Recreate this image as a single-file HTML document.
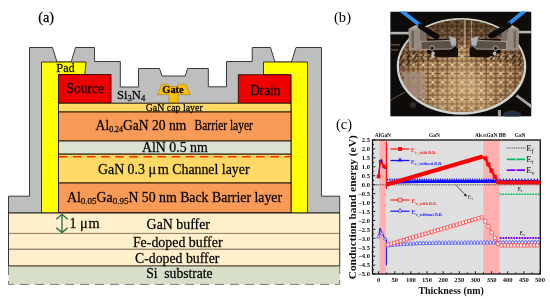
<!DOCTYPE html>
<html><head><meta charset="utf-8"><title>HEMT structure, wafer photo and band diagram</title>
<style>
html,body{margin:0;padding:0;background:#fff;}
body{width:550px;height:299px;overflow:hidden;}
svg{display:block;}
</style></head>
<body>
<svg width="550" height="299" viewBox="0 0 550 299">
<rect width="550" height="299" fill="#fff"/>
<polygon points="8.5,213.0 8.5,196.2 29.5,196.2 29.5,47.5 52.5,47.5 57.0,62.0 71.2,62.0 75.5,47.5 94.5,47.5 94.5,61.5 120.3,61.5 120.3,87.0 138.5,87.0 138.5,68.5 159.5,68.5 162.0,76.0 185.3,76.0 187.5,68.5 208.3,68.5 208.3,86.8 226.5,86.8 226.5,61.5 252.2,61.5 252.2,47.5 270.5,47.5 275.0,62.0 291.5,62.0 296.0,47.5 321.5,47.5 321.5,196.2 339.7,196.2 339.7,213.0" fill="#BEBEBE" stroke="#3a3a3a" stroke-width="1" stroke-linejoin="miter"/>
<polygon points="41.5,62 86,62 84.8,74.6 58.5,74.6 58.5,213 41.5,213" fill="#FFFF00" stroke="#222" stroke-width="0.9"/>
<polygon points="263.5,62 307.5,62 307.5,213 291,213 291,74.8 263.5,74.8" fill="#FFFF00" stroke="#222" stroke-width="0.9"/>
<rect x="58.5" y="74.6" width="52.5" height="28.6" fill="#EE0000" stroke="#300" stroke-width="0.9"/>
<rect x="238.3" y="74.8" width="52.5" height="28.4" fill="#EE0000" stroke="#300" stroke-width="0.9"/>
<polygon points="157.5,94.6 162,84.2 168,84.2 170,86.5 177,86.5 179.5,84.2 185.5,84.2 190,94.6 178,94.6 178,103.2 169,103.2 169,94.6" fill="#FFC000" stroke="#a07000" stroke-width="0.5"/>
<rect x="58.5" y="103.2" width="232.5" height="8.8" fill="#FFD966" stroke="#2b1a0a" stroke-width="1"/>
<rect x="58.5" y="112.0" width="232.5" height="29.0" fill="#F99B57" stroke="#2b1a0a" stroke-width="1"/>
<rect x="58.5" y="141.0" width="232.5" height="13.2" fill="#DCE2D2" stroke="#2b1a0a" stroke-width="1"/>
<rect x="58.5" y="154.2" width="232.5" height="28.8" fill="#FFD966" stroke="#2b1a0a" stroke-width="1"/>
<rect x="58.5" y="183.0" width="232.5" height="29.6" fill="#F99B57" stroke="#2b1a0a" stroke-width="1"/>
<line x1="58.8" y1="156.8" x2="290.5" y2="156.8" stroke="#FF2A00" stroke-width="1.6" stroke-dasharray="8.6 5.5"/>
<rect x="8.5" y="213" width="331.2" height="53" fill="#FFEFCB"/>
<rect x="8.5" y="266.2" width="331.2" height="18.2" fill="#D8DFC9"/>
<line x1="8.5" y1="213" x2="339.7" y2="213" stroke="#222" stroke-width="1.2"/>
<line x1="8.5" y1="233.4" x2="339.7" y2="233.4" stroke="#8a7b62" stroke-width="1"/>
<line x1="8.5" y1="249.2" x2="339.7" y2="249.2" stroke="#6b5f4c" stroke-width="1"/>
<line x1="8.5" y1="265.9" x2="339.7" y2="265.9" stroke="#4a4234" stroke-width="1.4"/>
<line x1="8.5" y1="213" x2="8.5" y2="266" stroke="#333" stroke-width="1"/>
<line x1="339.7" y1="213" x2="339.7" y2="266" stroke="#333" stroke-width="1"/>
<polyline points="8.5,266 8.5,284.4 339.7,284.4 339.7,266" fill="none" stroke="#7a7a7a" stroke-width="1" stroke-dasharray="9 6"/>
<g stroke="#1f6a3c" stroke-width="1.3" fill="none"><line x1="62" y1="214.3" x2="62" y2="232.6"/><polyline points="56.3,219.2 62,214.3 67.7,219.2"/><polyline points="56.3,227.8 62,232.6 67.7,227.8"/></g>
<g font-family="&#39;Liberation Serif&#39;, &#39;Times New Roman&#39;, serif" stroke="#000" stroke-width="0.28" stroke-opacity="0.8"><text x="38.2" y="21.9" font-size="14.30" fill="#000" >(a)</text><text x="56.3" y="71.6" font-size="12.30" fill="#000" >Pad</text><text x="66.5" y="92.9" font-size="14.80" fill="#000" textLength="37.4" lengthAdjust="spacingAndGlyphs">Source</text><text x="250.2" y="94.8" font-size="14.80" fill="#000" textLength="30.2" lengthAdjust="spacingAndGlyphs">Drain</text><text x="162.3" y="93.0" font-size="10.40" fill="#000" font-weight="bold">Gate</text><text x="117" y="98.6" font-size="12.6">Si<tspan font-size="8.6" dy="2">3</tspan><tspan dy="-2">N</tspan><tspan font-size="8.6" dy="2">4</tspan></text><text x="145.7" y="110.9" font-size="9.90" fill="#000" >GaN cap layer</text><text x="95.6" y="130.4" font-size="13.6">Al<tspan font-size="7.9" dy="1.6">0.24</tspan><tspan dy="-1.6">GaN 20 nm </tspan></text><text x="194.6" y="130.4" font-size="13.6" textLength="58.2" lengthAdjust="spacingAndGlyphs">Barrier layer</text><text x="142.0" y="151.5" font-size="13.85" fill="#000" >AlN 0.5 nm</text><text x="98.0" y="173.6" font-size="13.85">GaN 0.3 <tspan font-size="14.3" letter-spacing="1.6">μ</tspan><tspan font-size="14.3">m</tspan> Channel layer</text><text x="67.0" y="202.2" font-size="13.8">Al<tspan font-size="9" dy="2">0.05</tspan><tspan dy="-2">Ga</tspan><tspan font-size="9" dy="2">0.95</tspan><tspan dy="-2">N 50 nm Back Barrier layer</tspan></text><text x="69.6" y="228" font-size="13.9">1 <tspan font-size="14.3" letter-spacing="0.8">μ</tspan><tspan font-size="14.3">m</tspan></text><text x="146.6" y="229.0" font-size="13.90" fill="#000" >GaN buffer</text><text x="132.9" y="246.6" font-size="13.90" fill="#000" >Fe-doped buffer</text><text x="135.0" y="263.2" font-size="13.80" fill="#000" >C-doped buffer</text><text x="146.2" y="278.3" font-size="13.60" fill="#000" >Si&#160; substrate</text></g>
<text x="334" y="21.6" font-size="14.6" font-family="&#39;Liberation Serif&#39;, &#39;Times New Roman&#39;, serif">(b)</text>
<defs><clipPath id="ph"><rect x="390.2" y="11.5" width="141.3" height="105.1"/></clipPath><linearGradient id="wg" x1="0" y1="0" x2="0" y2="1"><stop offset="0" stop-color="#5a3c26"/><stop offset="0.4" stop-color="#6e4e34"/><stop offset="1" stop-color="#80603e"/></linearGradient><radialGradient id="glow" cx="0.5" cy="0.5" r="0.5"><stop offset="0" stop-color="#f4dcaa" stop-opacity="0.5"/><stop offset="1" stop-color="#f4dcaa" stop-opacity="0"/></radialGradient><pattern id="dies" x="1" y="0.5" width="9.7" height="8.6" patternUnits="userSpaceOnUse"><rect x="0" y="0" width="9.7" height="8.6" fill="#3e2614" opacity="0.3"/><g fill="#cfa272" opacity="0.9"><rect x="0.7" y="0.6" width="3.7" height="3.2"/><rect x="5.5" y="0.6" width="3.7" height="3.2"/><rect x="0.7" y="4.9" width="3.7" height="3.2"/><rect x="5.5" y="4.9" width="3.7" height="3.2"/></g><circle cx="5" cy="4.35" r="1.4" fill="#f4e0b6" opacity="0.9"/></pattern><filter id="soft" x="0" y="0" width="1" height="1"><feGaussianBlur stdDeviation="0.45"/></filter><filter id="blur3" x="-0.3" y="-0.3" width="1.6" height="1.6"><feGaussianBlur stdDeviation="4"/></filter><radialGradient id="vig" cx="0.5" cy="0.62" r="0.55"><stop offset="0.55" stop-color="#2a1a0e" stop-opacity="0"/><stop offset="1" stop-color="#2a1a0e" stop-opacity="0.45"/></radialGradient><pattern id="diag" x="0" y="0" width="7" height="6" patternUnits="userSpaceOnUse"><path d="M0,6 L3,0 L4.6,0 L1.6,6 z" fill="#1e120a" opacity="0.75"/></pattern><clipPath id="wc"><ellipse cx="461.5" cy="65.9" rx="62.5" ry="46.1"/></clipPath></defs>
<g clip-path="url(#ph)">
<rect x="390.2" y="11.5" width="141.3" height="105.1" fill="#0e0b09"/>
<rect x="390" y="31.8" width="19" height="2.6" fill="#b4b4b4"/>
<rect x="519" y="30.8" width="13" height="2.6" fill="#b4b4b4"/>
<rect x="390" y="44" width="10" height="1.6" fill="#5a4432"/>
<rect x="390" y="49" width="8" height="1.6" fill="#5a4432"/>
<line x1="516.5" y1="95.5" x2="533" y2="107.8" stroke="#a9a9a9" stroke-width="2.8"/>
<line x1="389" y1="101" x2="405" y2="92" stroke="#6e6460" stroke-width="0.9"/>
<ellipse cx="512" cy="114.5" rx="9" ry="4" fill="#27313b"/>
<ellipse cx="413" cy="105" rx="3" ry="3" fill="#2c2c2c"/>
<rect x="498" y="110" width="3" height="6" fill="#9a9a9a"/>
<ellipse cx="461.5" cy="66.4" rx="64.8" ry="48.4" fill="#cfd4ce"/>
<g clip-path="url(#wc)">
<rect x="395" y="17" width="134" height="98" fill="url(#wg)"/>
<rect x="395" y="17" width="134" height="98" fill="url(#dies)" filter="url(#soft)"/>
<polygon points="462,46 500,116 424,116" fill="#f0d098" opacity="0.2" filter="url(#blur3)"/>
<ellipse cx="468" cy="86" rx="30" ry="24" fill="url(#glow)" opacity="0.6"/>
<rect x="395" y="17" width="134" height="98" fill="url(#vig)"/>
<ellipse cx="462" cy="24" rx="50" ry="22" fill="#2e1c10" opacity="0.3" filter="url(#blur3)"/>
<path d="M397,55 C405,50 420,50 440,56 L440,62 C425,60 410,62 398,70 z" fill="url(#diag)"/>
<path d="M526,55 C518,50 503,50 483,56 L483,62 C498,60 513,62 525,70 z" fill="url(#diag)"/>
<polygon points="403,73 424,71 427,99 406,96" fill="#a48c7c" opacity="0.8"/>
<path d="M411,88.5 l3,1.5 l-3,1.5 z" fill="#ff40c0"/>
<line x1="465" y1="18" x2="465" y2="48" stroke="#ecd4a6" stroke-width="1.1" opacity="0.85"/>
<line x1="471.5" y1="18" x2="471.5" y2="48" stroke="#e4cca0" stroke-width="0.9" opacity="0.6"/>
</g>
<polygon points="427.0,39.0 447.0,39.0 458.0,46.0 458.0,57.0 440.0,57.5 427.0,53.0" fill="#140f0b"/>
<polygon points="408.4,29.0 420.0,28.0 421.0,50.5 409.0,50.0" fill="#988c80"/>
<polygon points="408.4,29.0 415.0,25.3 426.0,26.5 420.0,28.5" fill="#bab0a4"/>
<polygon points="420.0,28.5 426.0,26.5 427.0,48.0 421.0,50.5" fill="#7a6e64"/>
<polygon points="411.5,31.0 414.0,31.0 414.0,48.0 411.5,48.0" fill="#6e645a"/>
<polygon points="421.0,41.5 449.0,40.5 456.0,45.0 451.0,49.0 421.0,49.5" fill="#5a5048" stroke="#b0a898" stroke-width="0.9"/>
<polygon points="449.2,36.0 455.9,38.2 455.9,44.8 451.5,46.2" fill="#aab2ba"/>
<circle cx="432.0" cy="48.2" r="2.3" fill="#2a2420" stroke="#b4ab9c" stroke-width="0.9"/>
<circle cx="433.0" cy="53.4" r="1.8" fill="#c0b8ac"/>
<polygon points="500.6,39.0 480.6,39.0 469.6,46.0 469.6,57.0 487.6,57.5 500.6,53.0" fill="#140f0b"/>
<polygon points="519.2,29.0 507.6,28.0 506.6,50.5 518.6,50.0" fill="#988c80"/>
<polygon points="519.2,29.0 512.6,25.3 501.6,26.5 507.6,28.5" fill="#bab0a4"/>
<polygon points="507.6,28.5 501.6,26.5 500.6,48.0 506.6,50.5" fill="#7a6e64"/>
<polygon points="516.1,31.0 513.6,31.0 513.6,48.0 516.1,48.0" fill="#6e645a"/>
<polygon points="506.6,41.5 478.6,40.5 471.6,45.0 476.6,49.0 506.6,49.5" fill="#5a5048" stroke="#b0a898" stroke-width="0.9"/>
<polygon points="478.4,36.0 471.7,38.2 471.7,44.8 476.1,46.2" fill="#aab2ba"/>
<circle cx="495.6" cy="48.2" r="2.3" fill="#2a2420" stroke="#b4ab9c" stroke-width="0.9"/>
<circle cx="494.6" cy="53.4" r="1.8" fill="#c0b8ac"/>
<line x1="455" y1="45.5" x2="463.8" y2="51.5" stroke="#d8d0c0" stroke-width="0.5"/>
<line x1="472.6" y1="45.5" x2="463.8" y2="51.5" stroke="#d8d0c0" stroke-width="0.5"/>
<line x1="399" y1="9" x2="420.5" y2="25.4" stroke="#2d8ef2" stroke-width="3.8"/>
<path d="M419,23 L437,33.5 L440,36 L437.5,39.5 L434,38.5 L417.5,27.5 z" fill="#0c0c0c"/>
<line x1="527" y1="9" x2="508.5" y2="24" stroke="#2d8ef2" stroke-width="3.8"/>
<path d="M510,21.8 L491,32.5 L487.5,35 L490,38.8 L494,37.8 L511.5,26.5 z" fill="#0c0c0c"/>
</g>
<text x="336" y="128.6" font-size="14.4" font-family="&#39;Liberation Serif&#39;, &#39;Times New Roman&#39;, serif">(c)</text>
<rect x="372.5" y="140" width="167.79999999999995" height="134" fill="#DFDFDF"/>
<rect x="379.5" y="140" width="6.3" height="134" fill="#FFB0B0"/>
<rect x="483.3" y="140" width="16.4" height="134" fill="#FFB0B0"/>
<line x1="372.5" y1="184.8" x2="540.3" y2="184.8" stroke="#333" stroke-width="0.9" stroke-dasharray="1 0.8"/>
<line x1="499.8" y1="194.2" x2="540.3" y2="194.2" stroke="#00C060" stroke-width="1.6" stroke-dasharray="1.8 0.9"/>
<line x1="499.8" y1="238.0" x2="540.3" y2="238.0" stroke="#8000FF" stroke-width="1.8" stroke-dasharray="1.8 0.9"/>
<polyline points="378.6,176.6 380.2,161.4 381.8,162.2 383.4,166.8 385.1,167.3" fill="none" stroke="#1010FF" stroke-width="1.2"/>
<polyline points="386.6,183.8 392,182.7 400,182.0 420,181.6 539.6,181.4" fill="none" stroke="#1010FF" stroke-width="2.9"/>
<path d="M386.55,180.6 L387.15,178.4 h0.7 L388.45,180.6 z M388.85,180.6 L389.45,178.4 h0.7 L390.75,180.6 z M391.15,180.6 L391.75,178.4 h0.7 L393.05,180.6 z M393.45,180.6 L394.05,178.4 h0.7 L395.35,180.6 z M395.75,180.6 L396.35,178.4 h0.7 L397.65,180.6 z M398.05,180.6 L398.65,178.4 h0.7 L399.95,180.6 z M400.35,180.6 L400.95,178.4 h0.7 L402.25,180.6 z M402.65,180.6 L403.25,178.4 h0.7 L404.55,180.6 z M404.95,180.6 L405.55,178.4 h0.7 L406.85,180.6 z M407.25,180.6 L407.85,178.4 h0.7 L409.15,180.6 z M409.55,180.6 L410.15,178.4 h0.7 L411.45,180.6 z M411.85,180.6 L412.45,178.4 h0.7 L413.75,180.6 z M414.15,180.6 L414.75,178.4 h0.7 L416.05,180.6 z M416.45,180.6 L417.05,178.4 h0.7 L418.35,180.6 z M418.75,180.6 L419.35,178.4 h0.7 L420.65,180.6 z M421.05,180.6 L421.65,178.4 h0.7 L422.95,180.6 z M423.35,180.6 L423.95,178.4 h0.7 L425.25,180.6 z M425.65,180.6 L426.25,178.4 h0.7 L427.55,180.6 z M427.95,180.6 L428.55,178.4 h0.7 L429.85,180.6 z M430.25,180.6 L430.85,178.4 h0.7 L432.15,180.6 z M432.55,180.6 L433.15,178.4 h0.7 L434.45,180.6 z M434.85,180.6 L435.45,178.4 h0.7 L436.75,180.6 z M437.15,180.6 L437.75,178.4 h0.7 L439.05,180.6 z M439.45,180.6 L440.05,178.4 h0.7 L441.35,180.6 z M441.75,180.6 L442.35,178.4 h0.7 L443.65,180.6 z M444.05,180.6 L444.65,178.4 h0.7 L445.95,180.6 z M446.35,180.6 L446.95,178.4 h0.7 L448.25,180.6 z M448.65,180.6 L449.25,178.4 h0.7 L450.55,180.6 z M450.95,180.6 L451.55,178.4 h0.7 L452.85,180.6 z M453.25,180.6 L453.85,178.4 h0.7 L455.15,180.6 z M455.55,180.6 L456.15,178.4 h0.7 L457.45,180.6 z M457.85,180.6 L458.45,178.4 h0.7 L459.75,180.6 z M460.15,180.6 L460.75,178.4 h0.7 L462.05,180.6 z M462.45,180.6 L463.05,178.4 h0.7 L464.35,180.6 z M464.75,180.6 L465.35,178.4 h0.7 L466.65,180.6 z M467.05,180.6 L467.65,178.4 h0.7 L468.95,180.6 z M469.35,180.6 L469.95,178.4 h0.7 L471.25,180.6 z M471.65,180.6 L472.25,178.4 h0.7 L473.55,180.6 z M473.95,180.6 L474.55,178.4 h0.7 L475.85,180.6 z M476.25,180.6 L476.85,178.4 h0.7 L478.15,180.6 z M478.55,180.6 L479.15,178.4 h0.7 L480.45,180.6 z M480.85,180.6 L481.45,178.4 h0.7 L482.75,180.6 z M483.15,180.6 L483.75,178.4 h0.7 L485.05,180.6 z M485.45,180.6 L486.05,178.4 h0.7 L487.35,180.6 z M487.75,180.6 L488.35,178.4 h0.7 L489.65,180.6 z M490.05,180.6 L490.65,178.4 h0.7 L491.95,180.6 z M492.35,180.6 L492.95,178.4 h0.7 L494.25,180.6 z M494.65,180.6 L495.25,178.4 h0.7 L496.55,180.6 z M496.95,180.6 L497.55,178.4 h0.7 L498.85,180.6 z M499.25,180.6 L499.85,178.4 h0.7 L501.15,180.6 z M502.35,180.6 L502.95,178.4 h0.7 L504.25,180.6 z M505.45,180.6 L506.05,178.4 h0.7 L507.35,180.6 z M508.55,180.6 L509.15,178.4 h0.7 L510.45,180.6 z M511.65,180.6 L512.25,178.4 h0.7 L513.55,180.6 z M514.75,180.6 L515.35,178.4 h0.7 L516.65,180.6 z M517.85,180.6 L518.45,178.4 h0.7 L519.75,180.6 z M520.95,180.6 L521.55,178.4 h0.7 L522.85,180.6 z M524.05,180.6 L524.65,178.4 h0.7 L525.95,180.6 z M527.15,180.6 L527.75,178.4 h0.7 L529.05,180.6 z M530.25,180.6 L530.85,178.4 h0.7 L532.15,180.6 z M533.35,180.6 L533.95,178.4 h0.7 L535.25,180.6 z M536.45,180.6 L537.05,178.4 h0.7 L538.35,180.6 z" fill="#1010FF"/>
<polyline points="378.6,176.5 380.2,161.4 381.8,162.0 383.4,167.0 385.1,167.7" fill="none" stroke="#FF0000" stroke-width="1.4"/>
<rect x="376.8" y="174.7" width="3.6" height="3.6" fill="#FF0000"/>
<rect x="378.9" y="159.8" width="3.2" height="3.4" fill="#FF0000"/>
<rect x="382.4" y="164.9" width="3.2" height="3.4" fill="#FF0000"/>
<path d="M381.4,158.6 l1.6,2.8 h-3.2 z M385.9,166.2 l1.6,2.8 h-3.2 z" fill="#1010FF"/>
<line x1="386.4" y1="141.6" x2="386.4" y2="189" stroke="#FF0000" stroke-width="1.1"/>
<line x1="386.4" y1="239" x2="386.4" y2="265.5" stroke="#1010FF" stroke-width="1.1"/>
<polyline points="386.8,184.4 482.7,156.4" fill="none" stroke="#FF0000" stroke-width="4.2" stroke-linecap="butt"/>
<polyline points="482.0,156.6 485.5,158.6 488.3,164.3 491.5,170.8 494.8,176.8 498.2,182.0 501.0,182.6" fill="none" stroke="#FF0000" stroke-width="2.2"/>
<path d="M483.5,156.6 h4 v4 h-4 z M486.3,162.3 h4 v4 h-4 z M489.5,168.8 h4 v4 h-4 z M492.8,174.8 h4 v4 h-4 z M496.2,180.0 h4 v4 h-4 z" fill="#FF0000"/>
<line x1="499.5" y1="182.6" x2="539.6" y2="182.6" stroke="#FF0000" stroke-width="4.0"/>
<polyline points="378.6,237.0 380.0,228.0 382.0,233.5 385.0,239.0 386.4,239.0" fill="none" stroke="#FF5050" stroke-width="0.9"/>
<polyline points="378.6,237.0 380.0,228.0 382.0,233.5 385.0,239.0 386.4,239.0" fill="none" stroke="#1010FF" stroke-width="0.9"/>
<polyline points="388.0,245.3 400.0,244.0 420.0,243.0 440.0,242.6 539.3,242.0" fill="none" stroke="#3030FF" stroke-width="1"/>
<path d="M388.00,243.30 l2.0,3.6 h-4.0 z M391.18,242.96 l2.0,3.6 h-4.0 z M394.36,242.61 l2.0,3.6 h-4.0 z M397.54,242.27 l2.0,3.6 h-4.0 z M400.73,241.96 l2.0,3.6 h-4.0 z M403.92,241.80 l2.0,3.6 h-4.0 z M407.12,241.64 l2.0,3.6 h-4.0 z M410.32,241.48 l2.0,3.6 h-4.0 z M413.51,241.32 l2.0,3.6 h-4.0 z M416.71,241.16 l2.0,3.6 h-4.0 z M419.90,241.00 l2.0,3.6 h-4.0 z M423.10,240.94 l2.0,3.6 h-4.0 z M426.30,240.87 l2.0,3.6 h-4.0 z M429.50,240.81 l2.0,3.6 h-4.0 z M432.70,240.75 l2.0,3.6 h-4.0 z M435.90,240.68 l2.0,3.6 h-4.0 z M439.10,240.62 l2.0,3.6 h-4.0 z M442.30,240.59 l2.0,3.6 h-4.0 z M445.50,240.57 l2.0,3.6 h-4.0 z M448.70,240.55 l2.0,3.6 h-4.0 z M451.90,240.53 l2.0,3.6 h-4.0 z M455.10,240.51 l2.0,3.6 h-4.0 z M458.30,240.49 l2.0,3.6 h-4.0 z M461.50,240.47 l2.0,3.6 h-4.0 z M464.70,240.45 l2.0,3.6 h-4.0 z M467.90,240.43 l2.0,3.6 h-4.0 z M471.10,240.41 l2.0,3.6 h-4.0 z M474.30,240.39 l2.0,3.6 h-4.0 z M477.50,240.37 l2.0,3.6 h-4.0 z M480.70,240.35 l2.0,3.6 h-4.0 z M483.90,240.33 l2.0,3.6 h-4.0 z M487.10,240.32 l2.0,3.6 h-4.0 z M490.30,240.30 l2.0,3.6 h-4.0 z M493.50,240.28 l2.0,3.6 h-4.0 z M496.70,240.26 l2.0,3.6 h-4.0 z M499.90,240.24 l2.0,3.6 h-4.0 z M503.10,240.22 l2.0,3.6 h-4.0 z M506.30,240.20 l2.0,3.6 h-4.0 z M509.50,240.18 l2.0,3.6 h-4.0 z M512.70,240.16 l2.0,3.6 h-4.0 z M515.90,240.14 l2.0,3.6 h-4.0 z M519.10,240.12 l2.0,3.6 h-4.0 z M522.30,240.10 l2.0,3.6 h-4.0 z M525.50,240.08 l2.0,3.6 h-4.0 z M528.70,240.06 l2.0,3.6 h-4.0 z M531.90,240.04 l2.0,3.6 h-4.0 z M535.10,240.03 l2.0,3.6 h-4.0 z M538.30,240.01 l2.0,3.6 h-4.0 z" fill="#fff" stroke="#5a5aFF" stroke-width="0.8"/>
<polyline points="388.0,244.6 482.4,217.2 485.3,221.3 488.5,226.3 491.8,232.6 495.0,237.8 498.0,243.8 500.5,245.4 539.3,245.4" fill="none" stroke="#FF4040" stroke-width="1"/>
<path d="M386.35,242.95 h3.3 v3.3 h-3.3 z M389.47,242.04 h3.3 v3.3 h-3.3 z M392.59,241.14 h3.3 v3.3 h-3.3 z M395.71,240.23 h3.3 v3.3 h-3.3 z M398.83,239.33 h3.3 v3.3 h-3.3 z M401.96,238.42 h3.3 v3.3 h-3.3 z M405.08,237.51 h3.3 v3.3 h-3.3 z M408.20,236.61 h3.3 v3.3 h-3.3 z M411.32,235.70 h3.3 v3.3 h-3.3 z M414.44,234.80 h3.3 v3.3 h-3.3 z M417.56,233.89 h3.3 v3.3 h-3.3 z M420.68,232.98 h3.3 v3.3 h-3.3 z M423.80,232.08 h3.3 v3.3 h-3.3 z M426.93,231.17 h3.3 v3.3 h-3.3 z M430.05,230.27 h3.3 v3.3 h-3.3 z M433.17,229.36 h3.3 v3.3 h-3.3 z M436.29,228.46 h3.3 v3.3 h-3.3 z M439.41,227.55 h3.3 v3.3 h-3.3 z M442.53,226.64 h3.3 v3.3 h-3.3 z M445.65,225.74 h3.3 v3.3 h-3.3 z M448.77,224.83 h3.3 v3.3 h-3.3 z M451.89,223.93 h3.3 v3.3 h-3.3 z M455.02,223.02 h3.3 v3.3 h-3.3 z M458.14,222.11 h3.3 v3.3 h-3.3 z M461.26,221.21 h3.3 v3.3 h-3.3 z M464.38,220.30 h3.3 v3.3 h-3.3 z M467.50,219.40 h3.3 v3.3 h-3.3 z M470.62,218.49 h3.3 v3.3 h-3.3 z M473.74,217.58 h3.3 v3.3 h-3.3 z M476.86,216.68 h3.3 v3.3 h-3.3 z M479.99,215.77 h3.3 v3.3 h-3.3 z M483.65,219.65 h3.3 v3.3 h-3.3 z M486.85,224.65 h3.3 v3.3 h-3.3 z M490.15,230.95 h3.3 v3.3 h-3.3 z M493.35,236.15 h3.3 v3.3 h-3.3 z M496.35,242.15 h3.3 v3.3 h-3.3 z M499.85,243.75 h3.3 v3.3 h-3.3 z M503.10,243.75 h3.3 v3.3 h-3.3 z M506.35,243.75 h3.3 v3.3 h-3.3 z M509.60,243.75 h3.3 v3.3 h-3.3 z M512.85,243.75 h3.3 v3.3 h-3.3 z M516.10,243.75 h3.3 v3.3 h-3.3 z M519.35,243.75 h3.3 v3.3 h-3.3 z M522.60,243.75 h3.3 v3.3 h-3.3 z M525.85,243.75 h3.3 v3.3 h-3.3 z M529.10,243.75 h3.3 v3.3 h-3.3 z M532.35,243.75 h3.3 v3.3 h-3.3 z M535.60,243.75 h3.3 v3.3 h-3.3 z" fill="#fff" stroke="#FF5a5a" stroke-width="0.85"/>
<path d="M378.6,234.8 l1.8,3.1 h-3.6 z M382,231.5 l1.8,3.1 h-3.6 z M385.2,236.8 l1.8,3.1 h-3.6 z" fill="#fff" stroke="#5050FF" stroke-width="0.8"/>
<line x1="456" y1="185.3" x2="465.5" y2="195" stroke="#111" stroke-width="0.7"/>
<path d="M467,196.6 l-3.2,-1.2 l1.9,-1.9 z" fill="#111"/>
<rect x="372.5" y="140" width="167.79999999999995" height="134" fill="none" stroke="#111" stroke-width="1.3"/>
<path d="M372.5,140.00 h2.8 M372.5,144.47 h1.6 M372.5,148.94 h2.8 M372.5,153.40 h1.6 M372.5,157.87 h2.8 M372.5,162.34 h1.6 M372.5,166.81 h2.8 M372.5,171.27 h1.6 M372.5,175.74 h2.8 M372.5,180.21 h1.6 M372.5,184.68 h2.8 M372.5,189.14 h1.6 M372.5,193.61 h2.8 M372.5,198.08 h1.6 M372.5,202.55 h2.8 M372.5,207.01 h1.6 M372.5,211.48 h2.8 M372.5,215.95 h1.6 M372.5,220.42 h2.8 M372.5,224.88 h1.6 M372.5,229.35 h2.8 M372.5,233.82 h1.6 M372.5,238.29 h2.8 M372.5,242.75 h1.6 M372.5,247.22 h2.8 M372.5,251.69 h1.6 M372.5,256.15 h2.8 M372.5,260.62 h1.6 M372.5,265.09 h2.8 M372.5,269.56 h1.6 M372.5,274.02 h2.8 M378.60,274.0 v-2.8 M386.67,274.0 v-1.6 M394.74,274.0 v-2.8 M402.81,274.0 v-1.6 M410.88,274.0 v-2.8 M418.95,274.0 v-1.6 M427.02,274.0 v-2.8 M435.09,274.0 v-1.6 M443.16,274.0 v-2.8 M451.23,274.0 v-1.6 M459.30,274.0 v-2.8 M467.37,274.0 v-1.6 M475.44,274.0 v-2.8 M483.51,274.0 v-1.6 M491.58,274.0 v-2.8 M499.65,274.0 v-1.6 M507.72,274.0 v-2.8 M515.79,274.0 v-1.6 M523.86,274.0 v-2.8 M531.93,274.0 v-1.6 M540.00,274.0 v-2.8" stroke="#111" stroke-width="0.9" fill="none"/>
<g font-family="&#39;Liberation Serif&#39;, &#39;Times New Roman&#39;, serif" font-weight="bold" fill="#111"><text x="370" y="142.30" font-size="6.6" text-anchor="end">2.5</text><text x="370" y="151.24" font-size="6.6" text-anchor="end">2.0</text><text x="370" y="160.17" font-size="6.6" text-anchor="end">1.5</text><text x="370" y="169.11" font-size="6.6" text-anchor="end">1.0</text><text x="370" y="178.04" font-size="6.6" text-anchor="end">0.5</text><text x="370" y="186.98" font-size="6.6" text-anchor="end">0.0</text><text x="370" y="195.91" font-size="6.6" text-anchor="end">–0.5</text><text x="370" y="204.85" font-size="6.6" text-anchor="end">–1.0</text><text x="370" y="213.78" font-size="6.6" text-anchor="end">–1.5</text><text x="370" y="222.72" font-size="6.6" text-anchor="end">–2.0</text><text x="370" y="231.65" font-size="6.6" text-anchor="end">–2.5</text><text x="370" y="240.59" font-size="6.6" text-anchor="end">–3.0</text><text x="370" y="249.52" font-size="6.6" text-anchor="end">–3.5</text><text x="370" y="258.45" font-size="6.6" text-anchor="end">–4.0</text><text x="370" y="267.39" font-size="6.6" text-anchor="end">–4.5</text><text x="370" y="276.32" font-size="6.6" text-anchor="end">–5.0</text><text x="378.60" y="282.4" font-size="6.6" text-anchor="middle">0</text><text x="394.74" y="282.4" font-size="6.6" text-anchor="middle">50</text><text x="410.88" y="282.4" font-size="6.6" text-anchor="middle">100</text><text x="427.02" y="282.4" font-size="6.6" text-anchor="middle">150</text><text x="443.16" y="282.4" font-size="6.6" text-anchor="middle">200</text><text x="459.30" y="282.4" font-size="6.6" text-anchor="middle">250</text><text x="475.44" y="282.4" font-size="6.6" text-anchor="middle">300</text><text x="491.58" y="282.4" font-size="6.6" text-anchor="middle">350</text><text x="507.72" y="282.4" font-size="6.6" text-anchor="middle">400</text><text x="523.86" y="282.4" font-size="6.6" text-anchor="middle">450</text><text x="540.00" y="282.4" font-size="6.6" text-anchor="middle">500</text><text x="418.4" y="293.8" font-size="11" textLength="65.5" lengthAdjust="spacingAndGlyphs">Thickness (nm)</text><text transform="translate(356.3,279.3) rotate(-90)" x="0" y="0" font-size="11.4" textLength="144" lengthAdjust="spacingAndGlyphs">Conduction band energy (eV)</text><text x="374.8" y="136.6" font-size="5.4">AlGaN</text><text x="429" y="136.6" font-size="5.4">GaN</text><text x="474.9" y="136.6" font-size="5.4">Al<tspan font-size="3.6" dy="0.8">0.05</tspan><tspan dy="-0.8">GaN BB</tspan></text><text x="514.7" y="136.6" font-size="5.4">GaN</text></g>
<line x1="390.5" y1="149" x2="409.5" y2="149" stroke="#FF2020" stroke-width="1.3"/><rect x="398.1" y="147.1" width="3.8" height="3.8" fill="#FF0000"/><line x1="390.5" y1="160.5" x2="409.5" y2="160.5" stroke="#1010FF" stroke-width="1.3"/><path d="M400,157.6 l2.3,3.8 h-4.6 z" fill="#1010FF"/><line x1="390.5" y1="200" x2="409.5" y2="200" stroke="#FF3030" stroke-width="1.3"/><rect x="398.2" y="198.2" width="3.6" height="3.6" fill="#fff" stroke="#FF3030" stroke-width="0.9"/><line x1="390.5" y1="211.2" x2="409.5" y2="211.2" stroke="#2020FF" stroke-width="1.3"/><path d="M400,208.4 l2.1,3.6 h-4.2 z" fill="#fff" stroke="#2020FF" stroke-width="0.8"/>
<g font-family="&#39;Liberation Serif&#39;, &#39;Times New Roman&#39;, serif"><text x="410.8" y="152.2" fill="#FF2020"><tspan font-size="7">E</tspan><tspan font-size="4.3" font-weight="bold" dy="1.8">c_with B.B.</tspan></text><text x="410.8" y="163.6" fill="#2020FF"><tspan font-size="7">E</tspan><tspan font-size="4.3" font-weight="bold" dy="1.8">c_without B.B.</tspan></text><text x="411.2" y="203.2" fill="#FF2020"><tspan font-size="7">E</tspan><tspan font-size="4.3" font-weight="bold" dy="1.8">v_with B.B.</tspan></text><text x="411.2" y="214.4" fill="#2020FF"><tspan font-size="7">E</tspan><tspan font-size="4.3" font-weight="bold" dy="1.8">v_without B.B.</tspan></text><line x1="506.8" y1="148" x2="525.5" y2="148" stroke="#333" stroke-width="0.9" stroke-dasharray="1 0.8"/><line x1="506.8" y1="159.3" x2="525" y2="159.3" stroke="#00C060" stroke-width="1.7" stroke-dasharray="8.6 1.0"/><line x1="506.8" y1="170.2" x2="525" y2="170.2" stroke="#8000FF" stroke-width="1.7" stroke-dasharray="8.6 1.0"/><text x="526.2" y="150.7" fill="#111"><tspan font-size="9">E</tspan><tspan font-size="5.8" font-style="italic" dy="2.2">f</tspan></text><text x="526.2" y="162.0" fill="#111"><tspan font-size="9">E</tspan><tspan font-size="5.8" font-style="italic" dy="2.2">t</tspan></text><text x="526.2" y="172.9" fill="#111"><tspan font-size="9">E</tspan><tspan font-size="5.8" font-style="italic" dy="2.2">v</tspan></text><text x="517.5" y="191" fill="#111"><tspan font-size="6">E</tspan><tspan font-size="4" dy="1">t</tspan></text><text x="519.5" y="235.4" fill="#111"><tspan font-size="6">E</tspan><tspan font-size="4" dy="1">v</tspan></text><text x="467.8" y="198.8" fill="#555"><tspan font-size="6">E</tspan><tspan font-size="4" dy="1">f</tspan></text></g>
</svg>
</body></html>
